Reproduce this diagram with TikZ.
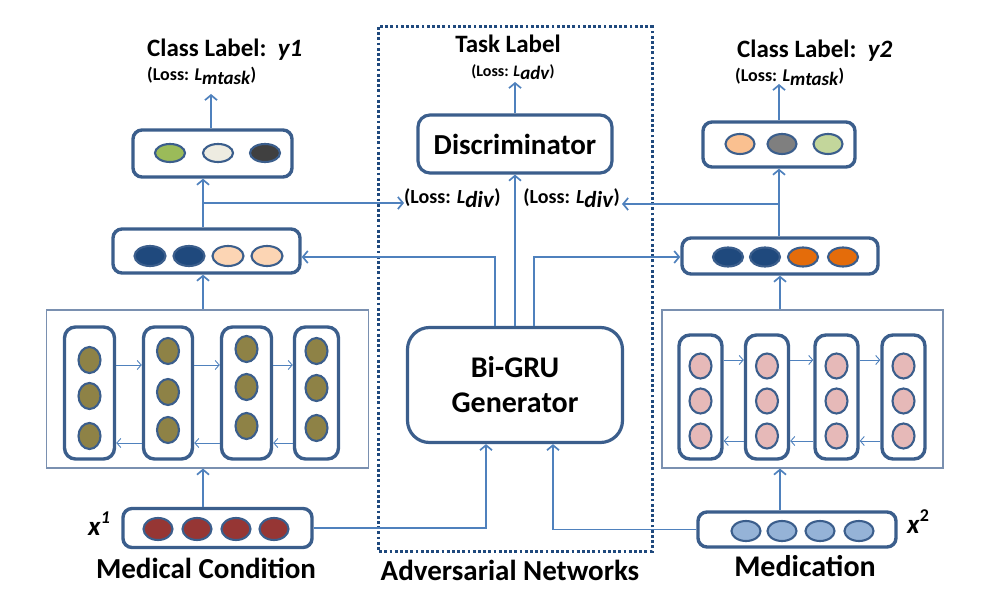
\documentclass[tikz,border=0pt]{standalone}
\usepackage{fontspec}
\setmainfont{Carlito}
\usetikzlibrary{arrows.meta,shapes.geometric}
\definecolor{boxc}{HTML}{3B5E8C}
\definecolor{arrowc}{HTML}{4F81BD}
\definecolor{thinbox}{HTML}{7A90B0}
\definecolor{dotc}{HTML}{1F497D}
\definecolor{navy}{HTML}{1F497D}
\definecolor{peach}{HTML}{FCD5B4}
\definecolor{darkred}{HTML}{963634}
\definecolor{olive}{HTML}{8E8246}
\definecolor{pink}{HTML}{E6B9B8}
\definecolor{lblue}{HTML}{95B3D7}
\definecolor{green1}{HTML}{9BBB59}
\definecolor{light1}{HTML}{EEECE1}
\definecolor{dgray}{HTML}{404040}
\definecolor{gray1}{HTML}{7F7F7F}
\definecolor{lgreen}{HTML}{C3D69B}
\definecolor{orange1}{HTML}{E46C0A}
\definecolor{peach2}{HTML}{FAC090}
\newcommand\myfs[1]{\fontsize{#1}{#1}\selectfont}
\newcommand\losslab[3]{\myfs{#1}(Loss: \textit{L}\raisebox{-0.35ex}{\myfs{#2}\textit{#3}})}
\begin{document}
\begin{tikzpicture}[x=1pt,y=-1pt,
  font=\bfseries,
  vecbox/.style={draw=boxc, line width=3.4pt, rounded corners=9pt, fill=white, inner sep=0pt},
  colbox/.style={draw=boxc, line width=3.4pt, rounded corners=11pt, fill=white, inner sep=0pt},
  bigbox/.style={draw=boxc, line width=3.2pt, fill=white, inner sep=0pt, align=center},
  grubox/.style={draw=thinbox, line width=1.1pt, inner sep=0pt},
  dot/.style={ellipse, draw=boxc, line width=2.1pt, inner sep=0pt},
  arr/.style={draw=arrowc, line width=1.7pt, -{Straight Barb[length=5pt,width=12pt,line width=1.7pt]}},
  thinarr/.style={draw=arrowc, line width=0.9pt, -{Straight Barb[length=4pt,width=9pt,line width=0.9pt]}},
  lab/.style={inner sep=0pt}
]
\useasboundingbox (0,0) rectangle (988,596);

% adversarial dotted region
\draw[dotc, line width=3pt, dash pattern=on 2.8pt off 2.4pt] (378,27) rectangle (652,551);

% ---------------- left side ----------------
\node[vecbox, minimum width=159pt, minimum height=47pt] (lt) at (212.5,153.5) {};
\node[dot, fill=green1, minimum width=30pt, minimum height=18pt] (lt1) at (170,153) {};
\node[dot, fill=light1, minimum width=30pt, minimum height=18pt] (lt2) at (218,153) {};
\node[dot, fill=dgray, minimum width=30pt, minimum height=18pt] (lt3) at (265,153) {};

\node[vecbox, minimum width=187pt, minimum height=44pt] (lm) at (206.5,251) {};
\node[dot, fill=navy, minimum width=31pt, minimum height=20pt] (lm1) at (150,256) {};
\node[dot, fill=navy, minimum width=31pt, minimum height=20pt] (lm2) at (189,256) {};
\node[dot, fill=peach, minimum width=31pt, minimum height=20pt] (lm3) at (228,256) {};
\node[dot, fill=peach, minimum width=31pt, minimum height=20pt] (lm4) at (267,256) {};

\node[grubox, minimum width=322pt, minimum height=158pt] (lg) at (207.5,389) {};
\foreach \i/\x/\w/\ya/\yb/\yc in {1/89.5/50/360/396/436, 2/168/49/351/392/430, 3/246.5/50/349/387/426, 4/316.5/44/351/388/428}{
  \node[colbox, minimum width=\w pt, minimum height=132pt] (lc\i) at (\x,393) {};
  \node[dot, fill=olive, minimum width=22pt, minimum height=26pt] (lc\i a) at (\x,\ya) {};
  \node[dot, fill=olive, minimum width=22pt, minimum height=26pt] (lc\i b) at (\x,\yb) {};
  \node[dot, fill=olive, minimum width=22pt, minimum height=26pt] (lc\i c) at (\x,\yc) {};
}
\coordinate (lf) at (0,365);
\coordinate (lb) at (0,443);
\foreach \a/\b in {1/2,2/3,3/4}{
  \draw[thinarr] (lc\a.east |- lf) -- (lc\b.west |- lf);
  \draw[thinarr] (lc\b.west |- lb) -- (lc\a.east |- lb);
}

\node[vecbox, minimum width=189pt, minimum height=39pt] (x1) at (217.5,528) {};
\foreach \i/\x in {1/158,2/197,3/236,4/274}{
  \node[dot, fill=darkred, minimum width=29pt, minimum height=22pt] (x1d\i) at (\x,529) {};
}
\node[lab, anchor=base west] (x1lab) at (88,535) {\myfs{27}\textit{x}\raisebox{0.42em}{\myfs{18}\textit{1}}};
\node[lab, anchor=base] (mclab) at (206,578) {\myfs{29}Medical Condition};

\node[lab, anchor=base west] (cl1) at (147,57) {\myfs{25}Class Label:\ \ \textit{y1}};
\node[lab, anchor=base west] (ls1) at (147,81) {\losslab{18}{19}{mtask}};

% ---------------- right side ----------------
\node[vecbox, minimum width=152pt, minimum height=45pt] (rt) at (779,144.5) {};
\node[dot, fill=peach2, minimum width=29pt, minimum height=20pt] (rt1) at (740,144) {};
\node[dot, fill=gray1, minimum width=29pt, minimum height=20pt] (rt2) at (782,144) {};
\node[dot, fill=lgreen, minimum width=29pt, minimum height=20pt] (rt3) at (828,144) {};

\node[vecbox, minimum width=196pt, minimum height=36pt] (rm) at (780,256) {};
\node[dot, fill=navy, minimum width=30pt, minimum height=19pt] (rm1) at (728,257) {};
\node[dot, fill=navy, minimum width=30pt, minimum height=19pt] (rm2) at (765,257) {};
\node[dot, fill=orange1, minimum width=30pt, minimum height=19pt] (rm3) at (803,257) {};
\node[dot, fill=orange1, minimum width=30pt, minimum height=19pt] (rm4) at (843,257) {};

\node[grubox, minimum width=281pt, minimum height=158pt] (rg) at (802.5,389) {};
\foreach \i/\x in {1/700.5,2/767,3/836.5,4/903.5}{
  \node[colbox, minimum width=43pt, minimum height=124pt] (rc\i) at (\x,397) {};
  \node[dot, fill=pink, minimum width=22pt, minimum height=25pt] (rc\i a) at (\x,366) {};
  \node[dot, fill=pink, minimum width=22pt, minimum height=25pt] (rc\i b) at (\x,401) {};
  \node[dot, fill=pink, minimum width=22pt, minimum height=25pt] (rc\i c) at (\x,436) {};
}
\coordinate (rf) at (0,360);
\coordinate (rb) at (0,441);
\foreach \a/\b in {1/2,2/3,3/4}{
  \draw[thinarr] (rc\a.east |- rf) -- (rc\b.west |- rf);
  \draw[thinarr] (rc\b.west |- rb) -- (rc\a.east |- rb);
}

\node[vecbox, minimum width=198pt, minimum height=35pt] (med) at (797,529.5) {};
\foreach \i/\x in {1/746,2/782,3/820,4/859}{
  \node[dot, fill=lblue, minimum width=29pt, minimum height=20pt] (medd\i) at (\x,531) {};
}
\node[lab, anchor=base west] (x2lab) at (907,533) {\myfs{27}\textit{x}\raisebox{0.42em}{\myfs{18}2}};
\node[lab, anchor=base] (medlab) at (805,576) {\myfs{30}Medication};

\node[lab, anchor=base west] (cl2) at (737,58) {\myfs{25}Class Label:\ \ \textit{y2}};
\node[lab, anchor=base west] (ls2) at (735,82) {\losslab{18}{19}{mtask}};

% ---------------- middle ----------------
\node[bigbox, rounded corners=12pt, minimum width=194pt, minimum height=58pt] (disc) at (515,144) {\myfs{29}Discriminator};
\node[bigbox, rounded corners=22pt, minimum width=215pt, minimum height=115pt, font=\bfseries\fontsize{30}{35}\selectfont] (gen) at (515,385) {Bi-GRU\\Generator};
\node[lab, anchor=base] (tl) at (508,53) {\myfs{25}Task Label};
\node[lab, anchor=base] (lsadv) at (513,77) {\losslab{16}{19}{adv}};
\node[lab, anchor=base west] (ldiv) at (404,204) {\losslab{20}{23}{div}};
\node[lab, anchor=base east] (rdiv) at (620,204) {\losslab{20}{23}{div}};
\node[lab, anchor=base] (advlab) at (510,580) {\myfs{29}Adversarial Networks};

% ---------------- connectors ----------------
\coordinate (lx) at (203,0);
\coordinate (lxt) at (211,94);
\coordinate (lxb) at (203,203);
\coordinate (rx) at (780,0);
\coordinate (rxt) at (779,84);
\coordinate (rxb) at (779,204);
\coordinate (dxt) at (515,82);
\coordinate (gl) at (495,0);
\coordinate (gr) at (534,0);
\coordinate (gy) at (0,257);
\coordinate (bl) at (486,0);
\coordinate (br) at (553,0);

\draw[arr] (lt.north -| lxt) -- (lxt);
\draw[arr] (lm.north -| lx) -- (lt.south -| lx);
\draw[arr] (lxb) -- (ldiv.west |- lxb);
\draw[arr] (lg.north -| lx) -- (lm.south -| lx);
\draw[arr] (x1.north -| lx) -- (lg.south -| lx);

\draw[arr] (rt.north -| rxt) -- (rxt);
\draw[arr] (rm.north -| rxt) -- (rt.south -| rxt);
\draw[arr] (rxb) -- ([xshift=2pt]rdiv.east |- rxb);
\draw[arr] (rg.north -| rx) -- (rm.south -| rx);
\draw[arr] (med.north -| rx) -- (rg.south -| rx);

\draw[arr] (disc.north) -- (dxt);
\draw[arr] (gen.north) -- (disc.south);
\draw[arr] (gen.north -| gl) -- (gl |- gy) -- (lm.east |- gy);
\draw[arr] (gen.north -| gr) -- (gr |- gy) -- (rm.west |- gy);
\draw[arr] (x1.east) -- (x1.east -| bl) -- (gen.south -| bl);
\draw[arr] (med.west) -- (med.west -| br) -- (gen.south -| br);
\end{tikzpicture}
\end{document}
